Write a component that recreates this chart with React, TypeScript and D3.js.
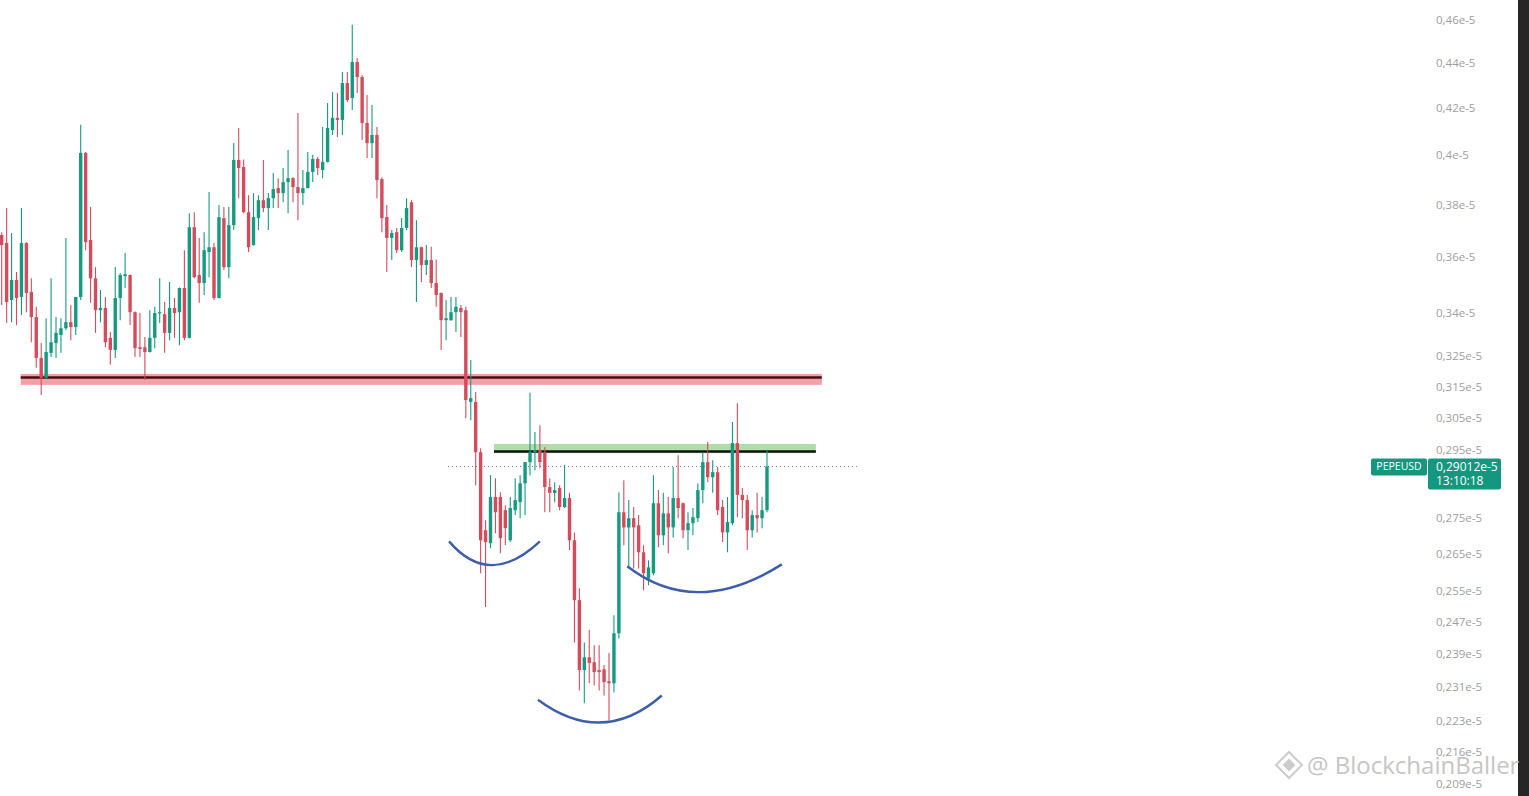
import * as d3 from 'd3';

// PEPEUSD candles, prices in units of 1e-5
const opens = [
  0.3684, 0.3654, 0.3445, 0.3517, 0.3456, 0.3654, 0.3474, 0.3385, 0.3245, 0.3179,
  0.3262, 0.3295, 0.3323, 0.3346, 0.3367, 0.335, 0.3456, 0.401, 0.3665, 0.3523,
  0.3409, 0.3417, 0.3313, 0.3272, 0.3452, 0.3531, 0.3535, 0.3402, 0.3281, 0.3281,
  0.3265, 0.3313, 0.3399, 0.3395, 0.333, 0.3417, 0.3402, 0.3488, 0.3313, 0.3714,
  0.3535, 0.3506, 0.362, 0.3638, 0.3452, 0.3749, 0.3564, 0.3722, 0.3981, 0.3952,
  0.3772, 0.3646, 0.3749, 0.3819, 0.3788, 0.3827, 0.3867, 0.3847, 0.3891, 0.3907,
  0.3871, 0.3847, 0.3867, 0.3932, 0.3985, 0.394, 0.3973, 0.4106, 0.4158, 0.4149,
  0.431, 0.4244, 0.4405, 0.4337, 0.4136, 0.4051, 0.4085, 0.3903, 0.3753, 0.3673,
  0.3695, 0.3627, 0.3711, 0.3811, 0.359, 0.3638, 0.3572, 0.359, 0.3506, 0.347,
  0.3374, 0.3374, 0.3402, 0.3417, 0.3409, 0.3101, 0.3101, 0.2944, 0.2716, 0.268,
  0.2811, 0.2811, 0.2773, 0.2688, 0.2773, 0.2796, 0.2851, 0.2914, 0.2944, 0.295,
  0.2944, 0.284, 0.2823, 0.2837, 0.2782, 0.2808, 0.2688, 0.2527, 0.2351, 0.2382,
  0.237, 0.2351, 0.2353, 0.2324, 0.2319, 0.2442, 0.2767, 0.2724, 0.275, 0.273,
  0.2655, 0.2584, 0.2598, 0.2793, 0.2702, 0.2764, 0.2724, 0.2808, 0.2793, 0.2716,
  0.2736, 0.275, 0.2831, 0.2914, 0.2869, 0.2884, 0.2782, 0.271, 0.2736, 0.2972,
  0.2817, 0.2802, 0.2716, 0.2759, 0.275, 0.2773,
];
const highs = [
  0.3695, 0.3788, 0.3692, 0.3546, 0.3788, 0.3657, 0.3523, 0.3421, 0.3295, 0.3381,
  0.3523, 0.3385, 0.3381, 0.3673, 0.3427, 0.3456, 0.4128, 0.4014, 0.3792, 0.3564,
  0.3481, 0.3456, 0.3333, 0.3564, 0.3542, 0.3616, 0.3537, 0.3404, 0.3399, 0.3316,
  0.3409, 0.3421, 0.3523, 0.3438, 0.351, 0.3452, 0.349, 0.3627, 0.3768, 0.3772,
  0.3673, 0.3695, 0.3851, 0.3654, 0.38, 0.3792, 0.3792, 0.4051, 0.4115, 0.3983,
  0.3839, 0.3847, 0.3839, 0.3981, 0.3847, 0.3928, 0.3907, 0.3948, 0.4022, 0.3911,
  0.4179, 0.394, 0.4014, 0.4002, 0.3993, 0.4119, 0.4222, 0.427, 0.4266, 0.436,
  0.436, 0.4577, 0.4423, 0.4346, 0.4257, 0.4213, 0.4119, 0.3911, 0.38, 0.3703,
  0.3711, 0.3749, 0.3827, 0.3819, 0.3741, 0.364, 0.3646, 0.364, 0.3592, 0.3472,
  0.3445, 0.3456, 0.3456, 0.3427, 0.3421, 0.3238, 0.3133, 0.2956, 0.2744, 0.2875,
  0.2866, 0.2825, 0.2787, 0.2811, 0.2866, 0.2875, 0.2914, 0.313, 0.3006, 0.3027,
  0.2959, 0.2866, 0.2854, 0.2845, 0.2905, 0.2823, 0.271, 0.2558, 0.2419, 0.245,
  0.2412, 0.2412, 0.2363, 0.2393, 0.2488, 0.2825, 0.286, 0.2802, 0.2782, 0.2759,
  0.2674, 0.2633, 0.2875, 0.2831, 0.2823, 0.2811, 0.2899, 0.2935, 0.2795, 0.2767,
  0.2779, 0.2851, 0.2944, 0.2975, 0.292, 0.2899, 0.2802, 0.2811, 0.3037, 0.3097,
  0.2837, 0.2817, 0.2773, 0.2823, 0.2811, 0.295,
];
const lows = [
  0.3427, 0.3364, 0.3367, 0.3357, 0.3392, 0.3402, 0.3298, 0.3212, 0.3123, 0.3177,
  0.3248, 0.3245, 0.3262, 0.334, 0.3305, 0.3323, 0.3445, 0.3627, 0.3435, 0.333,
  0.3367, 0.3281, 0.3222, 0.3245, 0.3374, 0.3488, 0.3357, 0.3248, 0.3248, 0.3172,
  0.3263, 0.3278, 0.3364, 0.3262, 0.3305, 0.3313, 0.3288, 0.3305, 0.3311, 0.3523,
  0.3435, 0.3463, 0.3527, 0.3445, 0.345, 0.3553, 0.3523, 0.3703, 0.3827, 0.3768,
  0.362, 0.3644, 0.3703, 0.3772, 0.3703, 0.3788, 0.3788, 0.3811, 0.3768, 0.3811,
  0.3741, 0.38, 0.3865, 0.3891, 0.392, 0.3907, 0.3971, 0.4085, 0.4077, 0.4085,
  0.4226, 0.4192, 0.4266, 0.4064, 0.3989, 0.3989, 0.3827, 0.3695, 0.3546, 0.359,
  0.3616, 0.362, 0.3703, 0.3564, 0.3438, 0.351, 0.3535, 0.3488, 0.3421, 0.3272,
  0.3305, 0.3372, 0.3333, 0.3316, 0.3049, 0.3043, 0.2845, 0.2598, 0.2509, 0.2666,
  0.2708, 0.2652, 0.2674, 0.2683, 0.2759, 0.275, 0.2759, 0.2875, 0.289, 0.2896,
  0.2767, 0.2767, 0.2796, 0.2773, 0.2779, 0.2661, 0.2419, 0.2302, 0.2272, 0.2319,
  0.2314, 0.2302, 0.229, 0.2232, 0.2297, 0.2429, 0.2674, 0.2611, 0.2611, 0.2611,
  0.2553, 0.2566, 0.2593, 0.2669, 0.2674, 0.2652, 0.2696, 0.275, 0.2694, 0.2661,
  0.2702, 0.2739, 0.2793, 0.2854, 0.2823, 0.2759, 0.2683, 0.2655, 0.273, 0.2753,
  0.275, 0.2661, 0.2696, 0.271, 0.2722, 0.2767,
];
const closes = [
  0.3646, 0.3438, 0.3517, 0.3452, 0.3654, 0.347, 0.3385, 0.3245, 0.3179, 0.3265,
  0.3298, 0.333, 0.3346, 0.3367, 0.335, 0.3456, 0.401, 0.3657, 0.3523, 0.3409,
  0.3417, 0.3298, 0.3272, 0.3452, 0.3535, 0.3538, 0.3402, 0.3278, 0.3275, 0.3265,
  0.3313, 0.3399, 0.3402, 0.333, 0.3417, 0.3399, 0.3488, 0.3313, 0.3714, 0.3527,
  0.3506, 0.3627, 0.3638, 0.3452, 0.3753, 0.3564, 0.3722, 0.3981, 0.3948, 0.3772,
  0.3638, 0.3753, 0.3819, 0.3788, 0.3827, 0.3863, 0.3847, 0.3891, 0.3907, 0.3871,
  0.3847, 0.3867, 0.3932, 0.3985, 0.3948, 0.3973, 0.4115, 0.4158, 0.4149, 0.431,
  0.4235, 0.4405, 0.4337, 0.4136, 0.4051, 0.4085, 0.3899, 0.3749, 0.3673, 0.3692,
  0.3627, 0.3711, 0.3788, 0.359, 0.3638, 0.3572, 0.359, 0.3506, 0.3463, 0.3374,
  0.3381, 0.3402, 0.3421, 0.3402, 0.3107, 0.3113, 0.2944, 0.2688, 0.2683, 0.2811,
  0.2767, 0.2694, 0.2722, 0.2779, 0.2802, 0.2851, 0.2914, 0.2944, 0.295, 0.2914,
  0.284, 0.2823, 0.2831, 0.2782, 0.2808, 0.2688, 0.2527, 0.2351, 0.2382, 0.2368,
  0.2346, 0.2346, 0.2322, 0.2319, 0.2442, 0.2767, 0.2724, 0.275, 0.2724, 0.2655,
  0.2598, 0.2614, 0.2793, 0.2702, 0.2764, 0.2724, 0.2808, 0.2779, 0.2716, 0.2736,
  0.2753, 0.2831, 0.2914, 0.2869, 0.2884, 0.2773, 0.271, 0.2739, 0.2972, 0.2817,
  0.2802, 0.2716, 0.2759, 0.275, 0.2773, 0.2901,
];

// 0.285 sits under the price tag, so it is not drawn
const priceTicks = [
  0.46, 0.44, 0.42, 0.4, 0.38, 0.36, 0.34, 0.325, 0.315, 0.305, 0.295,
  0.275, 0.265, 0.255, 0.247, 0.239, 0.231, 0.223, 0.216, 0.209,
];
const lastPriceLabel = '0,29012e-5';
const lastTimeLabel = '13:10:18';
const symbol = 'PEPEUSD';

// drawn levels: [from bar, to bar], [low, high] zone, line price
const redSpan = [3.85, 166.1];
const redZone = [0.3156, 0.3192];
const redLine = 0.318;
const greenSpan = [99.7, 164.9];
const greenZone = [0.2941, 0.2969];
const greenLine = 0.2946;
const lastPriceSpan = [90.4, 173.2];

// hand drawn arcs: [bar, price] start / bottom / end
const arcLeftShoulder = [[90.6, 0.2685], [99.3, 0.262], [109.0, 0.2685]];
const arcHead = [[108.6, 0.228], [121.4, 0.2227], [133.7, 0.229]];
const arcRightShoulder = [[126.7, 0.2617], [141.4, 0.2548], [158.0, 0.2622]];

const W = 1529;
const H = 796;
const UP = '#159a81';
const DOWN = '#d44c5b';
const TAG = '#14977e';
const fmt = (v: number) => String(v).replace('.', ',') + 'e-5';

export default function App() {
  const x = d3.scaleLinear().domain([0, opens.length - 1]).range([1.7, 767]);
  const y = d3.scaleLog().domain([0.209, 0.46]).range([784, 20]);
  const yl = y(closes[closes.length - 1]);

  const arcPath = (pts: number[][]) => {
    const [a, b, c] = pts.map(([i, p]) => [x(i), y(p)]);
    const cx = 2 * b[0] - (a[0] + c[0]) / 2;
    const cy = 2 * b[1] - (a[1] + c[1]) / 2;
    return `M${a[0]},${a[1]}Q${cx},${cy} ${c[0]},${c[1]}`;
  };

  return (
    <svg
      width={W}
      height={H}
      style={{ position: 'absolute', left: 0, top: 0, background: '#fff' }}
      fontFamily="'Open Sans', sans-serif"
    >
      <rect width={W} height={H} fill="#fff" />

      {/* resistance zone */}
      <rect
        x={x(redSpan[0])}
        width={x(redSpan[1]) - x(redSpan[0])}
        y={y(redZone[1])}
        height={y(redZone[0]) - y(redZone[1])}
        fill="#f2a0a7"
      />
      <line
        x1={x(redSpan[0])}
        x2={x(redSpan[1])}
        y1={y(redLine)}
        y2={y(redLine)}
        stroke="#4a0c10"
        strokeWidth={2.5}
      />

      {/* neckline zone */}
      <rect
        x={x(greenSpan[0])}
        width={x(greenSpan[1]) - x(greenSpan[0])}
        y={y(greenZone[1])}
        height={y(greenZone[0]) - y(greenZone[1])}
        fill="#b3dcad"
      />
      <line
        x1={x(greenSpan[0])}
        x2={x(greenSpan[1])}
        y1={y(greenLine)}
        y2={y(greenLine)}
        stroke="#111"
        strokeWidth={2.5}
      />

      {/* last price line */}
      <line
        x1={x(lastPriceSpan[0])}
        x2={x(lastPriceSpan[1])}
        y1={yl}
        y2={yl}
        stroke="#777"
        strokeWidth={1}
        strokeDasharray="1,3"
      />

      {/* candles */}
      <g>
        {opens.map((o, i) => {
          const c = closes[i];
          const col = c >= o ? UP : DOWN;
          const top = y(Math.max(o, c));
          const bot = y(Math.min(o, c));
          return (
            <g key={i}>
              <line
                x1={x(i)}
                x2={x(i)}
                y1={y(highs[i])}
                y2={y(lows[i])}
                stroke={col}
                strokeWidth={1.1}
              />
              <rect
                x={x(i) - 1.7}
                width={3.4}
                y={top}
                height={Math.max(1.2, bot - top)}
                fill={col}
              />
            </g>
          );
        })}
      </g>

      {/* arcs */}
      {[arcLeftShoulder, arcHead, arcRightShoulder].map((a, i) => (
        <path key={i} d={arcPath(a)} fill="none" stroke="#3d5eab" strokeWidth={2.4} />
      ))}

      {/* price axis */}
      <g fontSize={11.5} fill="#9e9e9e">
        {priceTicks.map((t) => (
          <text key={t} x={1436} y={y(t)} dy="0.35em">
            {fmt(t)}
          </text>
        ))}
      </g>

      {/* last price tags */}
      <rect x={1371} y={yl - 8} width={56} height={17} rx={2} fill={TAG} />
      <text x={1399} y={yl + 4} fontSize={10.5} fill="#fff" textAnchor="middle">
        {symbol}
      </text>
      <rect x={1428} y={yl - 8} width={73} height={31} rx={2} fill={TAG} />
      <text x={1436} y={yl + 4.5} fontSize={12} fill="#fff">
        {lastPriceLabel}
      </text>
      <text x={1436} y={yl + 18.5} fontSize={12} fill="#fff">
        {lastTimeLabel}
      </text>

      {/* scrollbar */}
      <rect x={1518} y={0} width={W - 1518} height={H} fill="#262626" />

      {/* watermark */}
      <g opacity={0.85} stroke="#c4c4c4" fill="none" strokeWidth={2}>
        <path d="M1289,752 L1302,765 L1289,778 L1276,765 Z" />
        <path d="M1289,760 L1294,765 L1289,770 L1284,765 Z" fill="#c4c4c4" />
      </g>
      <text x={1307} y={774} fontSize={24} fill="#c0c0c0" opacity={0.9}>
        @ BlockchainBaller
      </text>
    </svg>
  );
}
